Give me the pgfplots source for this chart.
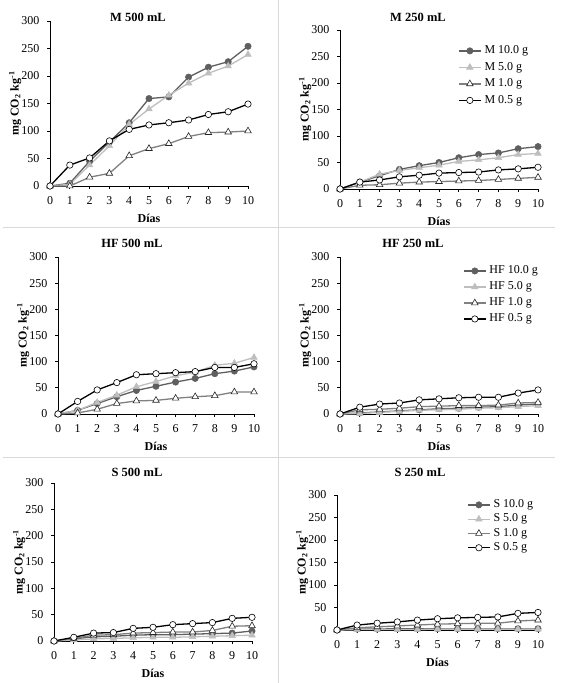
\documentclass[border=0pt]{standalone}
\usepackage{fontspec}
\setmainfont{Liberation Serif}
\usepackage{pgfplots}
\usepackage{pgfplotstable}
\pgfplotsset{compat=1.18}

\definecolor{c10}{HTML}{5F5F5F}
\definecolor{c5}{HTML}{BEBEBE}
\definecolor{c1}{HTML}{808080}
\definecolor{sepc}{HTML}{D9D9D9}

\pgfplotstableread{
x m10 m5 m1 m05
0 0 0 0 0
1 5 3 0 38
2 45 38 16 51
3 80 73 23 82
4 115 112 55 103
5 159 140 68 111
6 162 165 77 115
7 198 187 90 120
8 216 205 97 130
9 226 218 98 135
10 254 239 100 149
}\Mquin
\pgfplotstableread{
x m10 m5 m1 m05
0 0 0 0 0
1 13 13 7 13
2 25 28 8 17
3 37 35 11 23
4 44 40 13 26
5 50 45 14 30
6 59 52 15 31
7 65 55 16 32
8 68 59 18 36
9 76 65 20 38
10 80 67 22 41
}\Mdos
\pgfplotstableread{
x m10 m5 m1 m05
0 0 0 0 0
1 7 7 2 24
2 20 22 9 46
3 33 36 20 60
4 45 52 25 75
5 53 62 26 77
6 61 73 30 79
7 68 80 33 81
8 77 93 35 89
9 82 97 42 89
10 90 108 42 96
}\HFquin
\pgfplotstableread{
x m10 m5 m1 m05
0 0 0 0 0
1 2 1 8 13
2 4 3 9 19
3 6 5 11 21
4 8 7 14 27
5 10 8 15 29
6 11 9 16 31
7 13 11 16 32
8 14 12 17 32
9 17 14 21 40
10 19 16 22 46
}\HFdos
\pgfplotstableread{
x m10 m5 m1 m05
0 0 0 0 0
1 4 2 5 7
2 8 4 11 15
3 9 5 12 16
4 11 6 15 24
5 12 7 16 26
6 12 7 17 31
7 13 8 17 33
8 14 9 20 35
9 15 10 28 43
10 19 11 29 45
}\Squin
\pgfplotstableread{
x m10 m5 m1 m05
0 0 0 0 0
1 2 1 5 11
2 2 1 7 15
3 3 1 9 18
4 3 1 11 22
5 3 2 13 25
6 3 2 14 27
7 3 2 15 28
8 3 2 15 29
9 3 2 20 37
10 3 2 22 39
}\Sdos

\pgfplotsset{
 panel/.style={
  scale only axis, anchor=south west,
  xmin=0,xmax=10,ymin=0,ymax=300,
  xtick={0,...,10}, ytick={0,50,...,300},
  axis x line*=bottom, axis y line*=left,
  tick align=outside, major tick length=3pt,
  tick style={black, line width=0.7pt}, axis line style={line width=0.7pt},
  tick label style={font=\fontsize{12}{12}\selectfont, inner sep=1.5pt},
  xticklabel style={yshift=-6pt},
  yticklabel style={xshift=-6pt},
  /pgf/number format/assume math mode=true,
  xlabel={\textbf{Días}},
  ylabel={\textbf{mg CO\textsubscript{2} kg\textsuperscript{-1}}},
  label style={font=\fontsize{12}{12}\selectfont},
  xlabel style={yshift=-4pt},
  ylabel style={yshift=-5pt},
  clip=false,
  legend cell align=left,
  legend image code/.code={\draw[mark repeat=2,mark phase=2] plot coordinates {(0pt,0pt) (11pt,0pt) (22pt,0pt)};},
 },
 leg/.style 2 args={legend style={at={(#1)}, draw=none, fill=none, inner sep=0pt, anchor=north west,
   nodes={inner sep=0pt, text height=8.5pt, text depth=3pt, font=\fontsize{12}{12}\selectfont},
   column sep=3pt, row sep=#2}},
 s10/.style={color=c10, line width=1.3pt, mark=*, mark size=3.2pt, mark options={fill=c10, draw=c10, line width=0.5pt}},
 s5/.style={color=c5, line width=1.3pt, mark=triangle*, mark size=3.8pt, mark options={fill=c5, draw=c5, line width=0.5pt}},
 s1/.style={color=c1, line width=1.3pt, mark=triangle*, mark size=3.8pt, mark options={fill=white, draw=black!85, line width=0.6pt}},
 s05/.style={color=black, line width=1.3pt, mark=*, mark size=3.2pt, mark options={fill=white, draw=black, line width=0.6pt}},
}

\begin{document}
\begin{tikzpicture}
\useasboundingbox (0,0) rectangle (561pt,683pt);
\draw[sepc, line width=0.8pt] (278pt,0pt) -- (278pt,683pt);
\draw[sepc, line width=0.8pt] (3pt,456pt) -- (555pt,456pt);
\draw[sepc, line width=0.8pt] (3pt,226pt) -- (555pt,226pt);

% M 500 mL
\begin{axis}[panel, at={(50pt,497pt)}, width=198pt, height=165pt]
\addplot[s10] table[x=x,y=m10]{\Mquin};
\addplot[s5] table[x=x,y=m5]{\Mquin};
\addplot[s1] table[x=x,y=m1]{\Mquin};
\addplot[s05] table[x=x,y=m05]{\Mquin};
\end{axis}
\node[font=\bfseries\fontsize{12.5}{12}\selectfont] at (138pt,666pt) {M 500 mL};

% M 250 mL
\begin{axis}[panel, at={(340pt,494pt)}, width=198pt, height=159pt, leg={0.596,0.906}{5pt}]
\addplot[s10] table[x=x,y=m10]{\Mdos}; \addlegendentry{M 10.0 g}
\addplot[s5] table[x=x,y=m5]{\Mdos}; \addlegendentry{M 5.0 g}
\addplot[s1] table[x=x,y=m1]{\Mdos}; \addlegendentry{M 1.0 g}
\addplot[s05] table[x=x,y=m05]{\Mdos}; \addlegendentry{M 0.5 g}
\end{axis}
\node[font=\bfseries\fontsize{12.5}{12}\selectfont] at (418pt,666pt) {M 250 mL};

% HF 500 mL
\begin{axis}[panel, at={(58pt,269pt)}, width=196pt, height=157pt]
\addplot[s10] table[x=x,y=m10]{\HFquin};
\addplot[s5] table[x=x,y=m5]{\HFquin};
\addplot[s1] table[x=x,y=m1]{\HFquin};
\addplot[s05] table[x=x,y=m05]{\HFquin};
\end{axis}
\node[font=\bfseries\fontsize{12.5}{12}\selectfont] at (132pt,440pt) {HF 500 mL};

% HF 250 mL
\begin{axis}[panel, at={(340pt,269pt)}, width=198pt, height=157pt, leg={0.621,0.949}{4.5pt}]
\addplot[s10] table[x=x,y=m10]{\HFdos}; \addlegendentry{HF 10.0 g}
\addplot[s5] table[x=x,y=m5]{\HFdos}; \addlegendentry{HF 5.0 g}
\addplot[s1] table[x=x,y=m1]{\HFdos}; \addlegendentry{HF 1.0 g}
\addplot[s05] table[x=x,y=m05]{\HFdos}; \addlegendentry{HF 0.5 g}
\end{axis}
\node[font=\bfseries\fontsize{12.5}{12}\selectfont] at (413pt,440pt) {HF 250 mL};

% S 500 mL
\begin{axis}[panel, at={(54pt,42pt)}, width=198pt, height=158pt]
\addplot[s10] table[x=x,y=m10]{\Squin};
\addplot[s5] table[x=x,y=m5]{\Squin};
\addplot[s1] table[x=x,y=m1]{\Squin};
\addplot[s05] table[x=x,y=m05]{\Squin};
\end{axis}
\node[font=\bfseries\fontsize{12.5}{12}\selectfont] at (137pt,211pt) {S 500 mL};

% S 250 mL
\begin{axis}[panel, at={(337pt,53pt)}, width=201pt, height=135pt, leg={0.647,0.971}{2.8pt}]
\addplot[s10] table[x=x,y=m10]{\Sdos}; \addlegendentry{S 10.0 g}
\addplot[s5] table[x=x,y=m5]{\Sdos}; \addlegendentry{S 5.0 g}
\addplot[s1] table[x=x,y=m1]{\Sdos}; \addlegendentry{S 1.0 g}
\addplot[s05] table[x=x,y=m05]{\Sdos}; \addlegendentry{S 0.5 g}
\end{axis}
\node[font=\bfseries\fontsize{12.5}{12}\selectfont] at (420pt,211pt) {S 250 mL};
\end{tikzpicture}
\end{document}
